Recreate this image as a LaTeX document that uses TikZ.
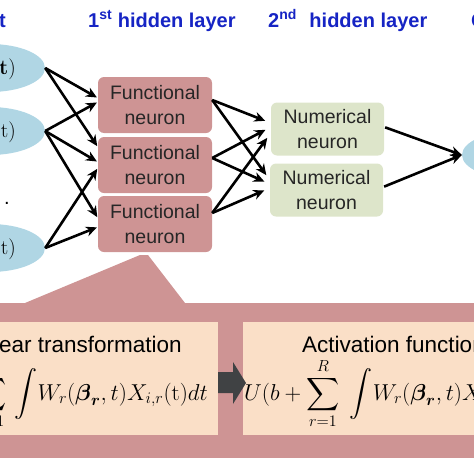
\RequirePackage{fix-cm}
\documentclass[tikz,border=0pt]{standalone}
\usepackage{amsmath,amssymb}
\usepackage[no-math]{fontspec}
\setmainfont{Liberation Sans}
\usepackage{tikz}
\usetikzlibrary{arrows.meta,shapes.geometric}
\usepackage{xcolor}
\definecolor{headblue}{RGB}{22,36,196}
\definecolor{inblue}{RGB}{176,214,228}
\definecolor{rose}{RGB}{206,148,148}
\definecolor{sage}{RGB}{221,229,202}
\definecolor{peach}{RGB}{250,223,199}
\definecolor{blockgray}{RGB}{64,66,68}
\newcommand{\bbeta}{\boldsymbol{\beta}_{\boldsymbol{r}}}
\tikzset{
  >={Stealth[length=11pt,width=10pt]},
}

\begin{document}
\begin{tikzpicture}[
  x=1pt, y=-1pt,
  head/.style={font=\fontsize{20}{24}\selectfont\bfseries, text=headblue, inner sep=0pt, anchor=base west},
  input/.style={ellipse, fill=inblue, minimum width=110pt, minimum height=48pt, inner sep=0pt},
  fnode/.style={fill=rose, rounded corners=6pt, minimum width=114pt, minimum height=56pt, align=center, inner sep=0pt, font=\fontsize{19.5}{25}\selectfont, text=black!85},
  nnode/.style={fnode, fill=sage, minimum width=113pt, minimum height=53pt},
  link/.style={->, line width=2.6pt},
  mathtxt/.style={inner sep=0pt, font=\fontsize{23}{28}\selectfont},
]
\useasboundingbox (0,0) rectangle (474,474);
\clip (0,0) rectangle (474,474);

% layer titles
\node[head, anchor=base east] (hin) at (6,27) {t};
\node[head] (h1) at (88,27) {1\textsuperscript{st} hidden layer};
\node[head] (h2) at (268,27) {2\textsuperscript{nd}\hspace{7pt} hidden layer};
\node[head] (hout) at (471,27) {O};

% zoom callout under the third functional neuron
\fill[rose] (140,255) -- (148,255) -- (185,303) -- (25,303) -- cycle;
\fill[rose] (-5,303) rectangle (480,458);
\fill[peach] (-5,322) rectangle (218,435);
\fill[peach] (243,322) rectangle (480,435);
\fill[blockgray] (218,372) -- (233,372) -- (233,362) -- (246,383) -- (233,404) -- (233,393) -- (218,393) -- cycle;

\node[inner sep=0pt, anchor=base east, font=\fontsize{22.5}{26}\selectfont] (lintxt) at (182,352) {ear transformation};
\node[inner sep=0pt, anchor=base west, font=\fontsize{22.5}{26}\selectfont] (acttxt) at (302,352) {Activation function};
\node[mathtxt, anchor=base east] (linf) at (208,400)
  {$\displaystyle\sum_{r=1}^{R}\,\int\! W_r(\bbeta,t)X_{i,r}(\mathrm{t})dt$};
\node[mathtxt, anchor=base west] (actf) at (244,400)
  {$\displaystyle U(b+\sum_{r=1}^{R}\;\int\! W_r(\bbeta,t)X_{i,r}(\mathrm{t})dt)$};

% inputs
\node[input] (in1) at (-10,68) {};
\node[input] (in2) at (-10,131) {};
\node[input] (in3) at (-10,248) {};
\node[anchor=base east, inner sep=0pt, font=\fontsize{21}{24}\selectfont] (t1) at (16,74) {$\mathbf{t})$};
\node[anchor=base east, inner sep=0pt, font=\fontsize{21}{24}\selectfont] (t2) at (16,137) {$\mathrm{t})$};
\node[anchor=base east, inner sep=0pt, font=\fontsize{21}{24}\selectfont] (t3) at (16,254) {$\mathrm{t})$};
\node[inner sep=0pt, font=\fontsize{20}{24}\selectfont] (dots) at (7,203) {.};

% output
\node[input] (out) at (517,155) {};

% hidden layers
\node[fnode] (fn1) at (155,105) {Functional\\neuron};
\node[fnode] (fn2) at (155,165) {Functional\\neuron};
\node[fnode] (fn3) at (155,224) {Functional\\neuron};
\node[nnode] (nn1) at (327.5,129) {Numerical\\neuron};
\node[nnode] (nn2) at (326.5,190) {Numerical\\neuron};

\path[link, shorten >=1pt]
(in1.east) edge ([yshift=7pt]fn1.west)
(in1.east) edge ([yshift=18pt]fn2.west)
(in2.east) edge ([yshift=3pt]fn1.west)
(in2.east) edge ([yshift=3pt]fn2.west)
(in2.east) edge ([yshift=6pt]fn3.west)
(in3.east) edge ([yshift=-3pt]fn2.west)
(in3.east) edge ([yshift=-3pt]fn3.west);

\path[link, shorten >=6pt]
([yshift=5pt]fn1.east) edge ([yshift=6pt]nn1.west)
([yshift=5pt]fn1.east) edge ([yshift=10pt]nn2.west)
([yshift=7pt]fn2.east) edge ([yshift=2pt]nn1.west)
([yshift=7pt]fn2.east) edge ([yshift=6pt]nn2.west)
([yshift=11pt]fn3.east) edge ([yshift=-4pt]nn1.west)
([yshift=11pt]fn3.east) edge ([yshift=2pt]nn2.west);

\path[link, shorten <=1pt]
([yshift=2pt]nn1.east) edge (out.west)
([yshift=3pt]nn2.east) edge (out.west);

\end{tikzpicture}
\end{document}
